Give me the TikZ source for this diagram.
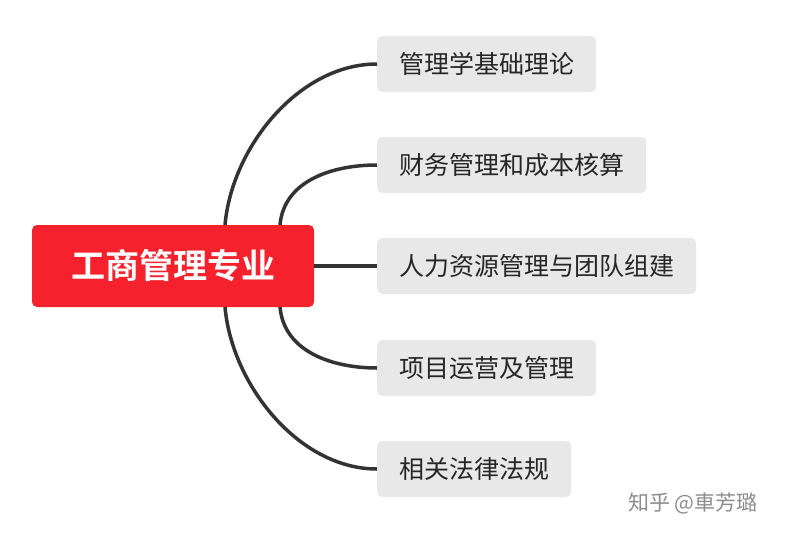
\documentclass[tikz,border=0pt]{standalone}
\usepackage{fontspec}
\newfontfamily\cjk{Noto Sans CJK SC}[BoldFont={Noto Sans CJK SC Bold}]
\usetikzlibrary{positioning}
\definecolor{rootred}{HTML}{F5222D}
\definecolor{leafgray}{HTML}{E8E8E8}
\definecolor{linkgray}{HTML}{333333}
\tikzset{
  rootnode/.style={fill=rootred, rounded corners=5pt, minimum width=282pt, minimum height=82pt,
    text=white, font=\cjk\bfseries\fontsize{34}{40}\selectfont},
  leafnode/.style={fill=leafgray, rounded corners=5pt, minimum height=56pt, anchor=west,
    inner xsep=22pt, text=black!85, font=\cjk\fontsize{25}{29}\selectfont},
  link/.style={draw=linkgray, line width=3.5pt}
}
\begin{document}
\begin{tikzpicture}[x=1pt,y=-1pt]
  \useasboundingbox (0,0) rectangle (787,535);
  \node[rootnode] (root) at (173,266) {工商管理专业};

  \node[leafnode] (l1) at (377,64) {管理学基础理论};
  \node[leafnode] (l2) at (377,165) {财务管理和成本核算};
  \node[leafnode] (l3) at (377,266) {人力资源管理与团队组建};
  \node[leafnode] (l4) at (377,368) {项目运营及管理};
  \node[leafnode] (l5) at (377,469) {相关法律法规};

  \coordinate (r1) at (225,225);
  \coordinate (r2) at (280,225);
  \coordinate (r4) at (280,307);
  \coordinate (r5) at (225,307);

  \draw[link] (r1) to[out=85,in=180,looseness=0.9] (l1.west);
  \draw[link] (r2) to[out=85,in=180] (l2.west);
  \draw[link] (root.east) -- (l3.west);
  \draw[link] (r4) to[out=-85,in=180] (l4.west);
  \draw[link] (r5) to[out=-85,in=180,looseness=0.9] (l5.west);

  \node[text=black!45, font=\cjk\fontsize{21}{25}\selectfont] (mark) at (693,503) {知乎 @車芳璐};
\end{tikzpicture}
\end{document}
